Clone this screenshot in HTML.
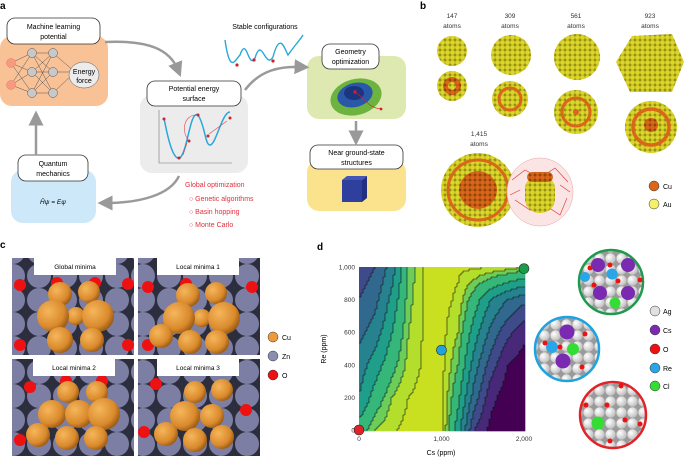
<!DOCTYPE html>
<html><head><meta charset="utf-8"><style>
html,body{margin:0;padding:0;background:#fff}
svg{display:block;font-family:"Liberation Sans",sans-serif}
</style></head><body>
<svg id="fig" width="685" height="459" viewBox="0 0 685 459">
<defs>
<radialGradient id="gCu" cx="35%" cy="35%" r="70%"><stop offset="0" stop-color="#f6b65c"/><stop offset="0.7" stop-color="#d98a2c"/><stop offset="1" stop-color="#9a5a14"/></radialGradient>
<radialGradient id="gAg" cx="35%" cy="35%" r="70%"><stop offset="0" stop-color="#ffffff"/><stop offset="1" stop-color="#bdbdbd"/></radialGradient>
<pattern id="pAu" width="5" height="5" patternUnits="userSpaceOnUse"><rect width="5" height="5" fill="#8f8a10"/><circle cx="2.5" cy="2.5" r="2.4" fill="#dcd52a"/></pattern>
<pattern id="pCu" width="5" height="5" patternUnits="userSpaceOnUse"><rect width="5" height="5" fill="#8a4005"/><circle cx="2.5" cy="2.5" r="2.4" fill="#d9661a"/></pattern>
<pattern id="pAg" width="11" height="11" patternUnits="userSpaceOnUse"><rect width="11" height="11" fill="#9a9a9a"/><circle cx="5.5" cy="5.5" r="5.2" fill="url(#gAg)"/></pattern>
<pattern id="pZn" width="26" height="24" patternUnits="userSpaceOnUse"><rect width="26" height="24" fill="#2c2d3d"/><circle cx="13" cy="12" r="12" fill="#7c7ea3"/></pattern>
<marker id="ah" markerWidth="6" markerHeight="6" refX="3" refY="3" orient="auto"><path d="M0,0 L6,3 L0,6 z" fill="#999"/></marker>
</defs>

<!-- ===== panel a ===== -->
<text x="0" y="9" font-size="10" font-weight="bold">a</text>
<rect x="0" y="36" width="108" height="70" rx="12" fill="#f9c196"/>
<g stroke="#555" stroke-width="0.5">
<line x1="11" y1="63" x2="32" y2="53"/><line x1="11" y1="63" x2="32" y2="72"/><line x1="11" y1="63" x2="32" y2="93"/>
<line x1="11" y1="85" x2="32" y2="53"/><line x1="11" y1="85" x2="32" y2="72"/><line x1="11" y1="85" x2="32" y2="93"/>
<line x1="32" y1="53" x2="53" y2="53"/><line x1="32" y1="53" x2="53" y2="72"/><line x1="32" y1="53" x2="53" y2="93"/>
<line x1="32" y1="72" x2="53" y2="53"/><line x1="32" y1="72" x2="53" y2="72"/><line x1="32" y1="72" x2="53" y2="93"/>
<line x1="32" y1="93" x2="53" y2="53"/><line x1="32" y1="93" x2="53" y2="72"/><line x1="32" y1="93" x2="53" y2="93"/>
<line x1="53" y1="53" x2="75" y2="72"/><line x1="53" y1="72" x2="75" y2="72"/><line x1="53" y1="93" x2="75" y2="72"/>
<circle cx="11" cy="63" r="4.5" fill="#f69b80" stroke="#e6786a"/><circle cx="11" cy="85" r="4.5" fill="#f69b80" stroke="#e6786a"/>
<circle cx="32" cy="53" r="4.5" fill="#c8c8c8"/><circle cx="32" cy="72" r="4.5" fill="#c8c8c8"/><circle cx="32" cy="93" r="4.5" fill="#c8c8c8"/>
<circle cx="53" cy="53" r="4.5" fill="#c8c8c8"/><circle cx="53" cy="72" r="4.5" fill="#c8c8c8"/><circle cx="53" cy="93" r="4.5" fill="#c8c8c8"/>
<ellipse cx="84" cy="75" rx="15" ry="13" fill="#ececec"/>
</g>
<text x="84" y="74" font-size="7" text-anchor="middle">Energy</text>
<text x="84" y="83" font-size="7" text-anchor="middle">force</text>
<rect x="7" y="18" width="93" height="26" rx="8" fill="#fff" stroke="#333" stroke-width="0.8"/>
<text x="53.5" y="29" font-size="7" text-anchor="middle">Machine learning</text>
<text x="53.5" y="39" font-size="7" text-anchor="middle">potential</text>

<rect x="11" y="170" width="85" height="53" rx="12" fill="#cde9f9"/>
<rect x="18" y="155" width="70" height="26" rx="8" fill="#fff" stroke="#333" stroke-width="0.8"/>
<text x="53" y="166" font-size="7" text-anchor="middle">Quantum</text>
<text x="53" y="176" font-size="7" text-anchor="middle">mechanics</text>
<text x="53" y="204" font-size="6.5" font-style="italic" text-anchor="middle">Ĥψ = Eψ</text>

<rect x="140" y="95" width="108" height="78" rx="12" fill="#ececec"/>
<g>
<path d="M159,110 L159,163 L232,163" fill="none" stroke="#777" stroke-width="0.6"/>
<path d="M164,118 C170,150 175,160 180,158 C188,150 190,110 198,115 C205,125 205,145 210,145 C216,145 222,112 230,112" fill="none" stroke="#2aa6dc" stroke-width="1.5"/>
<g fill="#d0212a"><circle cx="164" cy="119" r="1.5"/><circle cx="179" cy="158" r="1.5"/><circle cx="189" cy="141" r="1.5"/><circle cx="198" cy="115" r="1.5"/><circle cx="208" cy="136" r="1.5"/><circle cx="230" cy="118" r="1.5"/></g>
<path d="M189,141 C180,130 185,115 196,115 M209,134 L227,121 M187,143 L183,155" fill="none" stroke="#e0474f" stroke-width="0.6"/>
</g>
<rect x="147" y="81" width="94" height="25" rx="8" fill="#fff" stroke="#333" stroke-width="0.8"/>
<text x="194" y="91" font-size="7" text-anchor="middle">Potential energy</text>
<text x="194" y="101" font-size="7" text-anchor="middle">surface</text>

<text x="265" y="29" font-size="7" text-anchor="middle">Stable configurations</text>
<path d="M225,40 C230,75 235,60 240,55 C247,35 248,70 255,58 C262,35 265,70 273,57 C280,30 285,50 288,55 C295,45 300,40 303,35" fill="none" stroke="#2aa6dc" stroke-width="1.4"/>
<g fill="#d0212a"><circle cx="237" cy="65" r="1.6"/><circle cx="254" cy="60" r="1.6"/><circle cx="273" cy="61" r="1.6"/></g>

<rect x="307" y="56" width="99" height="63" rx="12" fill="#dde9b0"/>
<g><ellipse cx="356" cy="97" rx="26" ry="18" fill="#6db33f" transform="rotate(-15 356 97)"/><ellipse cx="355" cy="95" rx="18" ry="12" fill="#2a58a8" transform="rotate(-15 355 95)"/><ellipse cx="354" cy="93" rx="10" ry="7" fill="#1b3580"/><circle cx="355" cy="92" r="1.7" fill="#d0212a"/><circle cx="381" cy="109" r="1.4" fill="#d0212a"/><path d="M381,109 C368,108 365,98 356,93" fill="none" stroke="#d0212a" stroke-width="0.6"/></g>
<rect x="322" y="44" width="57" height="25" rx="8" fill="#fff" stroke="#333" stroke-width="0.8"/>
<text x="350.5" y="54" font-size="7" text-anchor="middle">Geometry</text>
<text x="350.5" y="64" font-size="7" text-anchor="middle">optimization</text>

<rect x="307" y="160" width="99" height="51" rx="12" fill="#fbe38e"/>
<g><rect x="342" y="180" width="20" height="22" fill="#2f3f9e"/><path d="M342,180 L347,176 L367,176 L362,180 z" fill="#4656b8"/><path d="M362,180 L367,176 L367,198 L362,202 z" fill="#233080"/></g>
<rect x="310" y="145" width="93" height="24" rx="8" fill="#fff" stroke="#333" stroke-width="0.8"/>
<text x="356.5" y="155" font-size="7" text-anchor="middle">Near ground-state</text>
<text x="356.5" y="165" font-size="7" text-anchor="middle">structures</text>

<g fill="none" stroke="#9a9a9a" stroke-width="2.5">
<path d="M105,42 C150,40 170,50 178,70" marker-end="url(#ah)"/>
<path d="M245,90 C260,70 280,66 302,67" marker-end="url(#ah)"/>
<path d="M356,121 L356,138" marker-end="url(#ah)"/>
<path d="M179,176 C170,195 140,203 105,203" marker-end="url(#ah)"/>
<path d="M36,155 L36,118" marker-end="url(#ah)"/>
</g>
<g fill="#e0323c" font-size="7">
<text x="185" y="187">Global optimization</text>
<text x="189" y="201">○ Genetic algorithms</text>
<text x="189" y="214">○ Basin hopping</text>
<text x="189" y="227">○ Monte Carlo</text>
</g>

<!-- ===== panel b ===== -->
<text x="420" y="9" font-size="10" font-weight="bold">b</text>
<g font-size="6.5" text-anchor="middle" fill="#333">
<text x="452" y="18">147</text><text x="452" y="28">atoms</text>
<text x="510" y="18">309</text><text x="510" y="28">atoms</text>
<text x="576" y="18">561</text><text x="576" y="28">atoms</text>
<text x="650" y="18">923</text><text x="650" y="28">atoms</text>
<text x="479" y="136">1,415</text><text x="479" y="146">atoms</text>
</g>
<g>
<circle cx="452" cy="51" r="15" fill="url(#pAu)"/>
<circle cx="511" cy="55" r="20" fill="url(#pAu)"/>
<circle cx="577" cy="57" r="23" fill="url(#pAu)"/>
<polygon points="632,36 672,34 684,62 672,92 630,92 616,62" fill="url(#pAu)"/>
<circle cx="452" cy="86" r="15" fill="url(#pAu)"/><circle cx="452" cy="86" r="9" fill="url(#pCu)"/><circle cx="452" cy="86" r="4" fill="url(#pAu)"/>
<circle cx="510" cy="99" r="18" fill="url(#pAu)"/><circle cx="510" cy="99" r="11" fill="none" stroke="#d9661a" stroke-width="3"/>
<circle cx="576" cy="112" r="22" fill="url(#pAu)"/><circle cx="576" cy="112" r="14" fill="none" stroke="#d9661a" stroke-width="3"/><circle cx="576" cy="112" r="3" fill="#d9661a"/>
<circle cx="651" cy="127" r="26" fill="url(#pAu)"/><circle cx="651" cy="127" r="18" fill="none" stroke="#d9661a" stroke-width="3.5"/><circle cx="651" cy="125" r="7" fill="url(#pCu)"/>
<circle cx="478" cy="190" r="37" fill="url(#pAu)"/><circle cx="478" cy="190" r="30" fill="none" stroke="#d9661a" stroke-width="3"/><circle cx="478" cy="190" r="19" fill="url(#pCu)"/>
<ellipse cx="540" cy="192" rx="33" ry="34" fill="#fbe4e4" stroke="#e9a0a0" stroke-width="0.5"/>
<path d="M512,180 L525,170 L540,178 L555,168 L568,182 M515,200 L530,210 L545,205 L560,215 L567,198 M520,190 L510,195 M560,185 L570,192" fill="none" stroke="#d33" stroke-width="0.6"/>
<rect x="525" y="175" width="30" height="38" rx="14" fill="url(#pAu)"/><rect x="527" y="172" width="26" height="10" rx="5" fill="url(#pCu)"/>
</g>
<g font-size="7">
<circle cx="654" cy="186" r="5" fill="#d9661a" stroke="#333" stroke-width="0.5"/><text x="663" y="189">Cu</text>
<circle cx="654" cy="204" r="5" fill="#f5ef6a" stroke="#333" stroke-width="0.5"/><text x="663" y="207">Au</text>
</g>

<!-- ===== panel c ===== -->
<text x="0" y="248" font-size="10" font-weight="bold">c</text>
<g>
<rect x="12" y="258" width="122" height="97" fill="url(#pZn)"/>
<rect x="138" y="258" width="122" height="97" fill="url(#pZn)"/>
<rect x="12" y="359" width="122" height="97" fill="url(#pZn)"/>
<rect x="138" y="359" width="122" height="97" fill="url(#pZn)"/>
<g fill="#ee1111"><circle cx="20" cy="285" r="6"/><circle cx="57" cy="283" r="6"/><circle cx="95" cy="283" r="6"/><circle cx="128" cy="284" r="6"/><circle cx="20" cy="345" r="6"/><circle cx="128" cy="345" r="6"/>
<circle cx="148" cy="287" r="6"/><circle cx="186" cy="284" r="6"/><circle cx="252" cy="287" r="6"/><circle cx="148" cy="345" r="6"/>
<circle cx="30" cy="387" r="6"/><circle cx="66" cy="381" r="6"/><circle cx="102" cy="381" r="6"/><circle cx="20" cy="440" r="6"/>
<circle cx="156" cy="384" r="6"/><circle cx="246" cy="410" r="6"/><circle cx="144" cy="432" r="6"/></g>
<g fill="url(#gCu)">
<circle cx="60" cy="294" r="12"/><circle cx="89" cy="292" r="11"/><circle cx="76" cy="316" r="9"/><circle cx="53" cy="316" r="16"/><circle cx="98" cy="316" r="16"/><circle cx="60" cy="340" r="13"/><circle cx="92" cy="340" r="12"/>
<circle cx="188" cy="295" r="12"/><circle cx="216" cy="293" r="11"/><circle cx="202" cy="318" r="9"/><circle cx="179" cy="318" r="16"/><circle cx="224" cy="318" r="16"/><circle cx="161" cy="336" r="12"/><circle cx="190" cy="342" r="12"/><circle cx="217" cy="342" r="12"/>
<circle cx="68" cy="392" r="11"/><circle cx="97" cy="392" r="11"/><circle cx="52" cy="414" r="14"/><circle cx="79" cy="414" r="14"/><circle cx="104" cy="414" r="16"/><circle cx="38" cy="435" r="12"/><circle cx="67" cy="438" r="12"/><circle cx="96" cy="438" r="12"/>
<circle cx="195" cy="392" r="11"/><circle cx="222" cy="390" r="11"/><circle cx="185" cy="416" r="15"/><circle cx="212" cy="416" r="12"/><circle cx="166" cy="434" r="12"/><circle cx="195" cy="440" r="12"/><circle cx="222" cy="437" r="12"/>
</g>
<rect x="34" y="258" width="82" height="17" fill="#fff"/><rect x="157" y="258" width="82" height="17" fill="#fff"/>
<rect x="33" y="359" width="82" height="17" fill="#fff"/><rect x="157" y="359" width="82" height="17" fill="#fff"/>
</g>
<g font-size="6.5" text-anchor="middle">
<text x="75" y="269">Global minima</text><text x="198" y="269">Local minima 1</text>
<text x="74" y="370">Local minima 2</text><text x="198" y="370">Local minima 3</text>
</g>
<g font-size="7">
<circle cx="273" cy="337" r="5" fill="#ee9a3a" stroke="#333" stroke-width="0.5"/><text x="282" y="340">Cu</text>
<circle cx="273" cy="356" r="5" fill="#8c8eb0" stroke="#333" stroke-width="0.5"/><text x="282" y="359">Zn</text>
<circle cx="273" cy="375" r="5" fill="#ee1111" stroke="#333" stroke-width="0.5"/><text x="282" y="378">O</text>
</g>

<!-- ===== panel d ===== -->
<text x="317" y="250" font-size="10" font-weight="bold">d</text>
<g id="heat"></g>
<g id="contours"></g>
<g id="axes" font-size="6.5" fill="#333"></g>
<text x="441" y="455" font-size="7" text-anchor="middle">Cs (ppm)</text>
<text x="326" y="349" font-size="7" text-anchor="middle" transform="rotate(-90 326 349)">Re (ppm)</text>
<g id="markers"></g>

<g>
<circle cx="611" cy="282" r="32" fill="url(#pAg)" stroke="#1f9a4c" stroke-width="2.5"/>
<g fill="#7a2ab0"><circle cx="598" cy="265" r="7"/><circle cx="628" cy="265" r="7"/><circle cx="600" cy="293" r="7"/><circle cx="628" cy="293" r="7"/></g>
<g fill="#2aa6e8"><circle cx="612" cy="274" r="5.5"/><circle cx="585" cy="277" r="5"/></g><circle cx="615" cy="303" r="5.5" fill="#33dd33"/>
<g fill="#ee1111"><circle cx="590" cy="268" r="2.5"/><circle cx="610" cy="265" r="2.5"/><circle cx="618" cy="281" r="2.5"/><circle cx="594" cy="285" r="2.5"/><circle cx="640" cy="280" r="2.5"/></g>
<circle cx="567" cy="349" r="32" fill="url(#pAg)" stroke="#1fa3e0" stroke-width="2.5"/>
<g fill="#7a2ab0"><circle cx="567" cy="332" r="7.5"/><circle cx="563" cy="361" r="7.5"/></g><circle cx="552" cy="347" r="6" fill="#2aa6e8"/><circle cx="573" cy="349" r="6" fill="#33dd33"/>
<g fill="#ee1111"><circle cx="545" cy="343" r="2.5"/><circle cx="560" cy="347" r="2.5"/><circle cx="585" cy="334" r="2.5"/><circle cx="582" cy="367" r="2.5"/></g>
<circle cx="613" cy="415" r="33" fill="url(#pAg)" stroke="#e02328" stroke-width="2.5"/>
<circle cx="598" cy="423" r="6.5" fill="#33dd33"/>
<g fill="#ee1111"><circle cx="621" cy="386" r="2.5"/><circle cx="607" cy="405" r="2.5"/><circle cx="625" cy="420" r="2.5"/><circle cx="640" cy="424" r="2.5"/><circle cx="610" cy="441" r="2.5"/><circle cx="586" cy="405" r="2.5"/></g>
</g>
<g font-size="7">
<circle cx="655" cy="311" r="5" fill="#e0e0e0" stroke="#333" stroke-width="0.5"/><text x="663" y="314">Ag</text>
<circle cx="655" cy="330" r="5" fill="#7a2ab0" stroke="#333" stroke-width="0.5"/><text x="663" y="333">Cs</text>
<circle cx="655" cy="349" r="5" fill="#ee1111" stroke="#333" stroke-width="0.5"/><text x="663" y="352">O</text>
<circle cx="655" cy="368" r="5" fill="#2aa6e8" stroke="#333" stroke-width="0.5"/><text x="663" y="371">Re</text>
<circle cx="655" cy="386" r="5" fill="#33dd33" stroke="#333" stroke-width="0.5"/><text x="663" y="389">Cl</text>
</g>
</svg>
<script>
const csValues = [0,200,400,600,800,1000,1200,1400,1600,1800,2000];
const reValues = [0,200,400,600,800,1000];
const yieldRe0    = [70,80,84,87,88,87,60,25,12,8,5];
const yieldRe200  = [55,70,80,85,87,87,68,40,18,10,8];
const yieldRe400  = [50,60,72,82,86,87,75,50,30,15,10];
const yieldRe600  = [42,50,65,80,86,87,80,60,42,28,18];
const yieldRe800  = [35,42,58,78,86,87,84,70,55,45,38];
const yieldRe1000 = [28,35,50,76,86,87,86,86,85,83,80];
const xTicks = [0,1000,2000];
const xTickLabels = ["0","1,000","2,000"];
const yTicks = [0,200,400,600,800,1000];
const yTickLabels = ["0","200","400","600","800","1,000"];
const markerCs = [0,1000,2000];
const markerRe = [0,490,990];
const markerColors = ["#e02328","#1fa3e0","#1f9a4c"];
const levels = [15,25,35,45,55,65,75,80,85];

const NS="http://www.w3.org/2000/svg";
const X0=359,X1=524,Y0=430,Y1=267;
const xs=v=>X0+(v-0)/(2000)*(X1-X0);
const ys=v=>Y0-(v-0)/(1000)*(Y0-Y1);
const rows=[yieldRe0,yieldRe200,yieldRe400,yieldRe600,yieldRe800,yieldRe1000];
function val(cs,re){
  let i=Math.min(csValues.length-2,Math.max(0,Math.floor(cs/200)));
  let j=Math.min(reValues.length-2,Math.max(0,Math.floor(re/200)));
  let tx=(cs-csValues[i])/(csValues[i+1]-csValues[i]), ty=(re-reValues[j])/(reValues[j+1]-reValues[j]);
  const a=rows[j][i],b=rows[j][i+1],c=rows[j+1][i],d=rows[j+1][i+1];
  return (a*(1-tx)+b*tx)*(1-ty)+(c*(1-tx)+d*tx)*ty;
}
const vir=[[68,1,84],[72,40,120],[62,74,137],[49,104,142],[38,130,142],[31,158,137],[53,183,121],[109,205,89],[180,222,44],[200,224,32]];
function band(v){let k=0; while(k<levels.length && v>=levels[k]) k++; return k;}
function color(k){const c=vir[Math.min(k,vir.length-1)];return `rgb(${c[0]},${c[1]},${c[2]})`;}
const heat=document.getElementById('heat');
const cont=document.getElementById('contours');
const step=2;
const nx=Math.ceil((X1-X0)/step), ny=Math.ceil((Y0-Y1)/step);
const B=[];
for(let a=0;a<nx;a++){B.push([]);for(let b=0;b<ny;b++){
  const px=X0+a*step, py=Y1+b*step;
  const cs=(px+step/2-X0)/(X1-X0)*2000, re=(Y0-(py+step/2))/(Y0-Y1)*1000;
  B[a].push(band(val(cs,re)));
}}
let d="";
for(let a=0;a<nx;a++){for(let b=0;b<ny;b++){
  const px=X0+a*step, py=Y1+b*step;
  const r=document.createElementNS(NS,'rect');
  
  
  r.setAttribute('x',px);r.setAttribute('y',py);r.setAttribute('width',step+0.3);r.setAttribute('height',step+0.3);
  r.setAttribute('fill',color(B[a][b]));
  heat.appendChild(r);
  if(a+1<nx && B[a+1][b]!==B[a][b]) d+=`M${px+step},${py}v${step}`;
  if(b+1<ny && B[a][b+1]!==B[a][b]) d+=`M${px},${py+step}h${step}`;
}}
const cp=document.createElementNS(NS,'path');


cp.setAttribute('d',d);cp.setAttribute('fill','none');cp.setAttribute('stroke','#111');cp.setAttribute('stroke-width','0.6');
cont.appendChild(cp);
const ax=document.getElementById('axes');
xTicks.forEach((t,i)=>{
  const tx=document.createElementNS(NS,'text');
  
  
  tx.setAttribute('x',xs(t));tx.setAttribute('y',Y0+11);tx.setAttribute('text-anchor','middle');
  tx.textContent=xTickLabels[i];ax.appendChild(tx);
});
yTicks.forEach((t,i)=>{
  const tx=document.createElementNS(NS,'text');
  
  
  tx.setAttribute('x',X0-4);tx.setAttribute('y',ys(t)+2.5);tx.setAttribute('text-anchor','end');
  tx.textContent=yTickLabels[i];ax.appendChild(tx);
});
const mk=document.getElementById('markers');
markerCs.forEach((c,i)=>{
  const m=document.createElementNS(NS,'circle');
  
  
  m.setAttribute('cx',xs(c));m.setAttribute('cy',ys(markerRe[i]));m.setAttribute('r',5);
  m.setAttribute('fill',markerColors[i]);m.setAttribute('stroke','#222');m.setAttribute('stroke-width','0.6');
  mk.appendChild(m);
});
</script>
</body></html>
